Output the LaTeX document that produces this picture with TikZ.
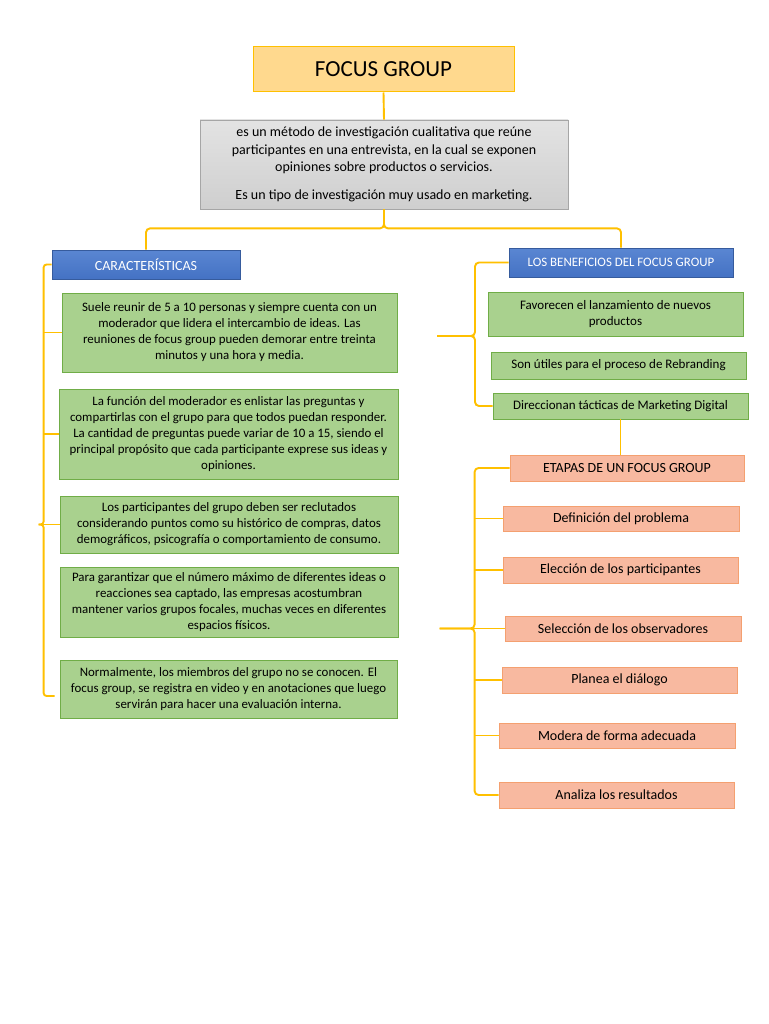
\documentclass[tikz,border=0pt]{standalone}
\usepackage{fontspec}
\setmainfont{Carlito}
\usetikzlibrary{positioning,calc}
\definecolor{goldline}{HTML}{FFC000}
\definecolor{titlefill}{HTML}{FFD98E}
\definecolor{grayline}{HTML}{A6A6A6}
\definecolor{bluefill}{HTML}{4472C4}
\definecolor{bluetop}{HTML}{5A86D2}
\definecolor{greenfill}{HTML}{A9D18E}
\definecolor{greenline}{HTML}{70AD47}
\definecolor{salmonfill}{HTML}{F8B9A0}
\definecolor{salmonline}{HTML}{F4A070}

\begin{document}
\begin{tikzpicture}[x=1pt, y=1pt,
  box/.style={draw, inner sep=0pt, align=center},
  titlebox/.style={box, fill=titlefill, draw=goldline, line width=1pt, font=\fontsize{23}{26}\selectfont},
  graybox/.style={box, top color=gray!22, bottom color=gray!38, draw=grayline, line width=0.8pt, font=\fontsize{14}{17.5}\selectfont},
  bluebox/.style={box, top color=bluetop, bottom color=bluefill, draw=bluefill!80!black, line width=0.6pt, text=white},
  greenbox/.style={box, fill=greenfill, draw=greenline, line width=0.8pt, font=\fontsize{12.9}{16}\selectfont},
  salmonbox/.style={box, fill=salmonfill, draw=salmonline, line width=0.8pt, font=\fontsize{14}{16}\selectfont},
  conn/.style={draw=goldline, line width=1.9pt, rounded corners=4pt}]
\fill[white] (0,0) rectangle (768,-1024);
\useasboundingbox (0,0) rectangle (768,-1024);

% title and definition
\node[titlebox, minimum width=261pt, minimum height=45pt] (title) at (383.5,-69.5) {FOCUS GROUP};
\node[graybox, minimum width=368pt, minimum height=89pt] (gray) at (384,-164.5)
  {es un método de investigación cualitativa que reúne\\
   participantes en una entrevista, en la cual se exponen\\
   opiniones sobre productos o servicios.\\[10pt]
   Es un tipo de investigación muy usado en marketing.};

% left column
\node[bluebox, minimum width=188pt, minimum height=29pt, font=\fontsize{14}{16}\selectfont] (car) at (146,-264.5) {CARACTERÍSTICAS};
\node[greenbox, minimum width=335pt, minimum height=79pt] (C1) at (229.5,-332.5)
  {Suele reunir de 5 a 10 personas y siempre cuenta con un\\
   moderador que lidera el intercambio de ideas. Las\\
   reuniones de focus group pueden demorar entre treinta\\
   minutos y una hora y media.};
\node[greenbox, minimum width=339pt, minimum height=90pt] (C2) at (228.5,-434)
  {La función del moderador es enlistar las preguntas y\\
   compartirlas con el grupo para que todos puedan responder.\\
   La cantidad de preguntas puede variar de 10 a 15, siendo el\\
   principal propósito que cada participante exprese sus ideas y\\
   opiniones.};
\node[greenbox, minimum width=338pt, minimum height=57pt] (C3) at (229,-524.5)
  {Los participantes del grupo deben ser reclutados\\
   considerando puntos como su histórico de compras, datos\\
   demográficos, psicografía o comportamiento de consumo.};
\node[greenbox, minimum width=338pt, minimum height=70pt] (C4) at (229,-602)
  {Para garantizar que el número máximo de diferentes ideas o\\
   reacciones sea captado, las empresas acostumbran\\
   mantener varios grupos focales, muchas veces en diferentes\\
   espacios físicos.};
\node[greenbox, minimum width=337pt, minimum height=58pt] (C5) at (228.5,-689)
  {Normalmente, los miembros del grupo no se conocen. El\\
   focus group, se registra en video y en anotaciones que luego\\
   servirán para hacer una evaluación interna.};

% right column, benefits
\node[bluebox, minimum width=224pt, minimum height=29pt, font=\fontsize{12.9}{15}\selectfont] (ben) at (621,-262.5) {LOS BENEFICIOS DEL FOCUS GROUP};
\node[greenbox, minimum width=255pt, minimum height=44pt, font=\fontsize{13}{16}\selectfont] (B1) at (615.5,-314)
  {Favorecen el lanzamiento de nuevos\\ productos};
\node[greenbox, minimum width=255pt, minimum height=27pt, font=\fontsize{13}{16}\selectfont] (B2) at (618.5,-365.5) {Son útiles para el proceso de Rebranding};
\node[greenbox, minimum width=255pt, minimum height=26pt, font=\fontsize{13}{16}\selectfont] (B3) at (620.5,-406) {Direccionan tácticas de Marketing Digital};

% right column, stages
\node[salmonbox, minimum width=234pt, minimum height=26pt] (etapas) at (627,-468) {ETAPAS DE UN FOCUS GROUP};
\node[salmonbox, minimum width=236pt, minimum height=25pt] (E1) at (621,-518.5) {Definición del problema};
\node[salmonbox, minimum width=235pt, minimum height=26pt] (E2) at (620.5,-570) {Elección de los participantes};
\node[salmonbox, minimum width=236pt, minimum height=25pt] (E3) at (623,-628.5) {Selección de los observadores};
\node[salmonbox, minimum width=235pt, minimum height=26pt] (E4) at (619.5,-680) {Planea el diálogo};
\node[salmonbox, minimum width=236pt, minimum height=25pt] (E5) at (617,-735.5) {Modera de forma adecuada};
\node[salmonbox, minimum width=235pt, minimum height=26pt] (E6) at (616.5,-795) {Analiza los resultados};

% connectors
\draw[conn] (title.south) -- (gray.north);
\coordinate (topJoin) at ($(gray.south)+(0,-19)$);
\draw[conn] (car.north) |- (topJoin) -- (gray.south);
\draw[conn] (ben.north) |- (topJoin) -- (gray.south);

% left brace
\coordinate (leftJoin) at ($(C3.west)+(-16,0)$);
\coordinate (leftTip) at ($(C3.west)+(-21,0)$);
\coordinate (leftEnd) at ($(C5.west)+(-5,-7)$);
\draw[conn, rounded corners=3pt] (car.west) -| (leftJoin) -- (leftTip);
\draw[conn, rounded corners=3pt] (leftEnd) -| (leftJoin) -- (leftTip);
\draw[conn] (leftTip) -- (C3.west);
\foreach \b in {C1,C2}
  \draw[conn] (\b.west) -- (\b.west -| leftJoin);

% benefits brace
\coordinate (benJoin) at (475,-336);
\coordinate (benTip) at (437,-336);
\draw[conn] (ben.west) -| (benJoin) -- (benTip);
\draw[conn] (B3.west) -| (benJoin) -- (benTip);
\draw[conn] (B3.south) -- (B3.south |- etapas.north);

% stages brace
\coordinate (etJoin) at ($(E3.west)+(-30,0)$);
\coordinate (etTip) at ($(E3.west)+(-65,0)$);
\draw[conn] (etapas.west) -| (etJoin) -- (etTip);
\draw[conn] (E6.west) -| (etJoin) -- (etTip);
\draw[conn] (etTip) -- (E3.west);
\foreach \b in {E1,E2,E4,E5}
  \draw[conn] (\b.west) -- (\b.west -| etJoin);
\end{tikzpicture}
\end{document}
